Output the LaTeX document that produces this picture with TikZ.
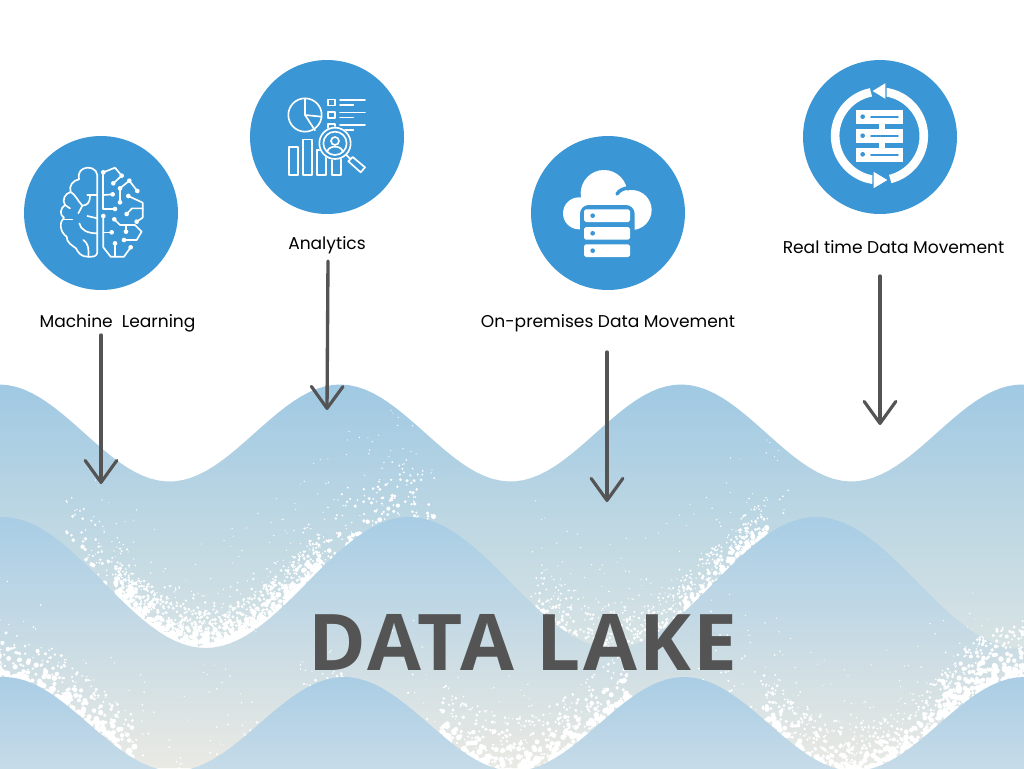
\documentclass[tikz,border=0pt]{standalone}
\usepackage{fontspec}
\setmainfont{Poppins}
\newfontfamily\titlefont[LetterSpace=3,Kerning=Off]{Open Sans}
\usetikzlibrary{arrows.meta}
\definecolor{disc}{HTML}{3A96D4}
\definecolor{ink}{HTML}{545454}
\definecolor{waveAtop}{HTML}{A0C9E3}
\definecolor{waveAbot}{HTML}{F2F0E4}
\definecolor{waveBtop}{HTML}{A8CDE5}
\definecolor{waveBbot}{HTML}{EAEAE4}
\definecolor{waveCtop}{HTML}{AACDE5}
\definecolor{waveCbot}{HTML}{C8DCE8}
\newcommand{\specks}[9]{%
  \foreach \i in {1,...,#3}{%
    \pgfmathsetmacro\sx{#1+rnd*(#2-#1)}%
    \pgfmathsetmacro\su{rnd}%
    \pgfmathsetmacro\sy{#6-#7*cos((\sx-#5)/#4*360)-#8*pow(\su,1.4)}%
    \pgfmathsetmacro\sr{0.45+#9*(1-0.7*\su)*(0.2+0.8*rnd)}%
    \fill[white] (\sx,\sy) circle (\sr);
  }}
\newcommand{\wavetwo}[5]{\specks{#1}{#2}{#3}{407}{2}{582.5}{65.5}{#4}{#5}}
\newcommand{\wavethree}[5]{\specks{#1}{#2}{#3}{340}{4}{724}{47}{#4}{#5}}
\tikzset{
  iconline/.style={draw=white,line width=0.95pt,line join=round,line cap=round},
  discnode/.style={circle,fill=disc,draw=none,minimum size=3.08cm,inner sep=0pt},
  labeltext/.style={font=\fontsize{9.72}{12}\selectfont,text=black,anchor=base,inner sep=0pt},
  flow/.style={draw=ink,line width=1.9pt,line cap=round,-{Straight Barb[length=12.5pt,width=18pt,line width=1.8pt,round]}},
}
\begin{document}
\begin{tikzpicture}[x=0.02cm,y=-0.02cm]
\useasboundingbox (0,0) rectangle (1024,768);
\fill[white] (0,0) rectangle (1024,768);
\pgfmathsetseed{4242}
% --- back wave
\shade[top color=waveAtop,bottom color=waveAbot] (0,768) -- plot[domain=0:1024,samples=130] (\x,{433-48.5*cos((\x+1)/341*360)}) -- (1024,768) -- cycle;
% speckle above the middle wave
\wavetwo{115}{320}{900}{38}{3.2}
\wavetwo{65}{435}{420}{58}{2.4}
\wavetwo{90}{420}{190}{115}{0.8}
\wavetwo{680}{768}{240}{38}{2.8}
\wavetwo{535}{680}{280}{48}{1.9}
\wavetwo{530}{790}{130}{110}{0.8}
% --- middle wave
\shade[top color=waveBtop,bottom color=waveBbot] (0,768) -- plot[domain=0:1024,samples=130] (\x,{582.5-65.5*cos((\x-2)/407*360)}) -- (1024,768) -- cycle;
% speckle above the front wave
\wavethree{-10}{135}{260}{46}{3.8}
\wavethree{0}{260}{80}{100}{1}
\wavethree{300}{345}{25}{30}{1.4}
\wavethree{440}{630}{430}{55}{3.4}
\wavethree{390}{560}{70}{95}{1}
\wavethree{760}{950}{480}{48}{3.2}
\wavethree{940}{1024}{280}{56}{4}
\wavethree{690}{1000}{140}{115}{1}
% --- front wave
\shade[top color=waveCtop,bottom color=waveCbot] (0,775) -- plot[domain=0:1024,samples=130] (\x,{724-47*cos((\x-4)/340*360)}) -- (1024,775) -- cycle;

% --- discs
\node[discnode] (ml) at (101,213) {};
\node[discnode] (an) at (327,137) {};
\node[discnode] (op) at (608,213) {};
\node[discnode] (rt) at (880,137) {};

% --- brain icon
\begin{scope}[shift={(0,60)},scale=1/3]
\draw[iconline] (292,575) -- (292,345) .. controls (290,325) and (265,318) .. (250,326) .. controls (238,332) and (234,345) .. (237,358)
  .. controls (220,360) and (205,378) .. (212,396) .. controls (195,400) and (185,420) .. (195,435)
  .. controls (180,445) and (178,465) .. (192,473) .. controls (178,485) and (178,515) .. (200,530)
  .. controls (200,548) and (215,555) .. (228,565) .. controls (235,580) and (245,590) .. (262,590) -- (275,590) .. controls (285,590) and (292,585) .. (292,575);
\draw[iconline] (212,396) .. controls (225,402) and (235,425) .. (247,437) -- (235,460);
\draw[iconline] (247,437) .. controls (262,435) and (270,430) .. (270,405);
\draw[iconline] (262,405) -- (292,405);
\draw[iconline] (195,435) -- (210,445);
\draw[iconline] (190,478) -- (217,478);
\draw[iconline] (262,468) -- (292,475);
\draw[iconline] (238,490) .. controls (242,510) and (262,520) .. (292,520);
\draw[iconline] (250,540) .. controls (262,548) and (267,560) .. (265,590);
\draw[iconline] (310,337) -- (345,323) -- (365,347) -- (340,370);
\draw[iconline] (310,337) -- (310,447) -- (345,447);
\draw[iconline] (310,405) -- (338,403);
\draw[iconline] (360,427) -- (360,385) -- (388,362) -- (412,393);
\draw[iconline] (385,408) -- (428,428) -- (428,473) -- (410,485);
\draw[iconline] (380,462) -- (396,445) -- (428,445);
\draw[iconline] (310,468) -- (310,562) -- (332,590) -- (372,590) -- (392,562);
\draw[iconline] (310,517) -- (335,517);
\draw[iconline] (345,550) -- (345,590);
\draw[iconline] (343,478) -- (360,495) -- (405,495) -- (425,515) -- (410,540) -- (372,540);
\draw[iconline] (378,515) -- (378,495);
\foreach \p in {(310,337),(365,347),(340,370),(388,362),(412,393),(360,385),(360,427),(338,403),(385,408),(345,447),(380,462),(410,485),(310,468),(343,478),(378,515),(335,517),(372,540),(345,550),(392,562)}
  \fill[white] \p circle (7);
\end{scope}

% --- analytics icon
\begin{scope}[shift={(0,60)},scale=1/3]
\draw[iconline] (915,165) circle (50);
\draw[iconline] (915,115) -- (915,165) -- (964,170);
\draw[iconline] (915,165) -- (945,211);
\foreach \yy in {118,155,192} {
  \draw[iconline] (985,\yy) rectangle (1005,\yy+18);
  \draw[iconline] (1020,\yy+2) -- (1095,\yy+2);
  \draw[iconline] (1020,\yy+17) -- (1060,\yy+17);
}
\draw[iconline] (867,260) rectangle (893,345);
\draw[iconline] (910,238) rectangle (936,345);
\draw[iconline] (952,270) rectangle (979,345);
\draw[iconline] (997,295) rectangle (1022,345);
\fill[disc] (1005,250) circle (50);
\draw[iconline] (1005,250) circle (47);
\draw[iconline] (1005,250) circle (35);
\draw[iconline] (1005,243) circle (12);
\draw[iconline] (982,275) .. controls (985,255) and (1025,255) .. (1028,275);
\draw[iconline] (1038,284) -- (1052,298);
\draw[iconline,fill=disc] (1058,291) -- (1095,322) -- (1082,337) -- (1045,304) -- cycle;
\end{scope}

% --- cloud server icon
\begin{scope}[shift={(500,50)},scale=1/3]
\fill[white] (237,490) circle (48);
\fill[white] (312,430) circle (70);
\fill[white] (395,480) circle (60);
\fill[white] (237,445) rectangle (395,538);
\draw[draw=disc,line width=2pt,line cap=round] (351,432) .. controls (358,420) and (372,414) .. (395,412);
\fill[disc,rounded corners=5pt] (240,465) rectangle (404,640);
\foreach \yy in {478,531,583} {
  \fill[white,rounded corners=1pt] (252,\yy) rectangle (390,\yy+38);
  \fill[disc] (278,\yy+19) circle (7);
}
\end{scope}

% --- rotating server icon
\begin{scope}[shift={(500,50)},scale=1/3]
\draw[white,line width=4.9pt] (1113,127) arc[start angle=-101,end angle=-262,radius=133];
\draw[white,line width=4.9pt] (1150,125.5) arc[start angle=-85,end angle=76,radius=133];
\fill[white,draw=disc,line width=0.6pt] (1114,123) -- (1158,96) -- (1158,150) -- cycle;
\fill[white,draw=disc,line width=0.6pt] (1166,390) -- (1119,362) -- (1119,418) -- cycle;
\foreach \yy in {180,237,293} {
  \fill[white] (1068,\yy) rectangle (1208,\yy+42);
  \fill[disc] (1088,\yy+20) circle (7);
  \draw[disc,line width=1.1pt,line cap=round] (1113,\yy+21) -- (1194,\yy+21);
}
\fill[white] (1136,222) rectangle (1156,237);
\fill[white] (1136,279) rectangle (1156,293);
\end{scope}

% --- labels
\node[labeltext] (lml) at (117.5,327) {Machine\ \ Learning};
\node[labeltext] (lan) at (327,249) {Analytics};
\node[labeltext] (lop) at (608,327) {On-premises Data Movement};
\node[labeltext] (lrt) at (893.5,253) {Real time Data Movement};
\node[anchor=base,inner sep=0pt,text=ink,font=\titlefont\bfseries\fontsize{44.5}{50}\selectfont] (title) at (523,670) {DATA LAKE};

% --- connectors
\coordinate (a1s) at (101,335); \coordinate (a1e) at (101,484);
\coordinate (a2s) at (328,261); \coordinate (a2e) at (327,410);
\coordinate (a3s) at (607,352); \coordinate (a3e) at (607,502);
\coordinate (a4s) at (880,276); \coordinate (a4e) at (880,425);
\draw[flow] (a1s) -- (a1e);
\draw[flow] (a2s) -- (a2e);
\draw[flow] (a3s) -- (a3e);
\draw[flow] (a4s) -- (a4e);
\end{tikzpicture}
\end{document}
